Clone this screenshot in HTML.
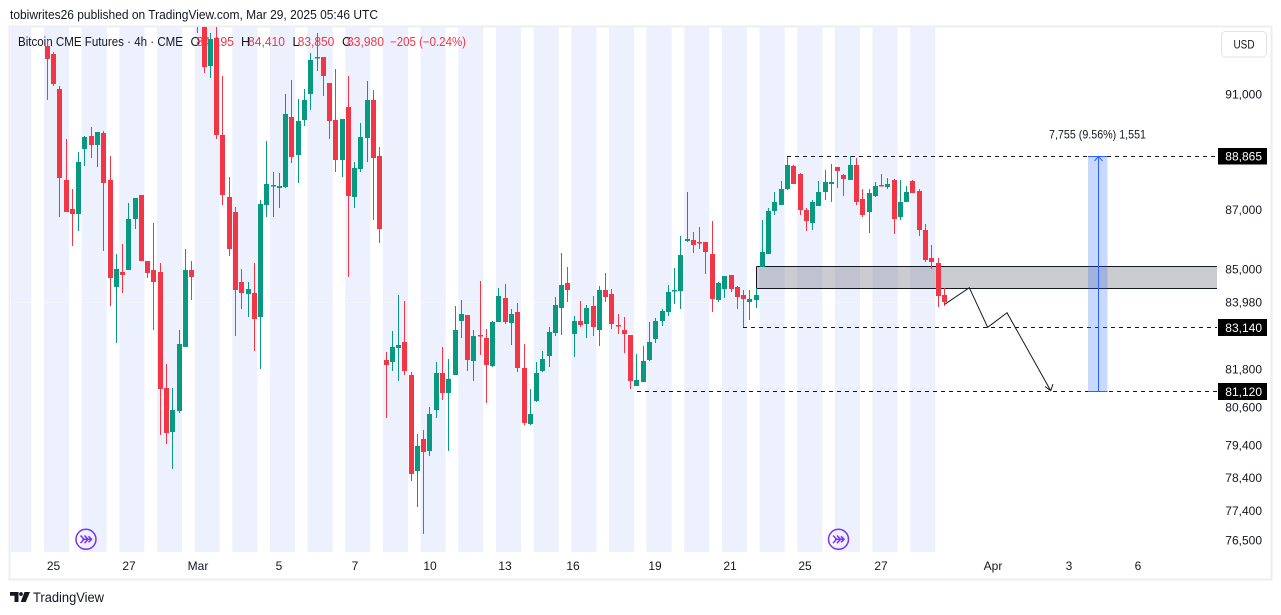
<!DOCTYPE html>
<html><head><meta charset="utf-8"><style>
html,body{margin:0;padding:0;background:#fff;}
svg{display:block;font-family:"Liberation Sans",sans-serif;}
</style></head><body>
<svg width="1281" height="615" viewBox="0 0 1281 615" xmlns="http://www.w3.org/2000/svg">
<rect x="0" y="0" width="1281" height="615" fill="#fff"/>
<text x="10" y="19" font-size="13" fill="#131722" textLength="368" lengthAdjust="spacingAndGlyphs">tobiwrites26 published on TradingView.com, Mar 29, 2025 05:46 UTC</text>
<rect x="9.5" y="26.5" width="1262" height="553" fill="none" stroke="#eceef2" stroke-width="2"/>
<defs><clipPath id="pc"><rect x="10" y="27" width="1207" height="525"/></clipPath></defs>
<g fill="#edf0fd">
<rect x="11" y="27" width="20.3" height="525"/>
<rect x="44" y="27" width="25.1" height="525"/>
<rect x="81.66" y="27" width="25.1" height="525"/>
<rect x="119.32" y="27" width="25.1" height="525"/>
<rect x="156.98" y="27" width="25.1" height="525"/>
<rect x="194.64" y="27" width="25.1" height="525"/>
<rect x="232.3" y="27" width="25.1" height="525"/>
<rect x="269.96" y="27" width="25.1" height="525"/>
<rect x="307.62" y="27" width="25.1" height="525"/>
<rect x="345.28" y="27" width="25.1" height="525"/>
<rect x="382.94" y="27" width="25.1" height="525"/>
<rect x="420.6" y="27" width="25.1" height="525"/>
<rect x="458.26" y="27" width="25.1" height="525"/>
<rect x="495.92" y="27" width="25.1" height="525"/>
<rect x="533.58" y="27" width="25.1" height="525"/>
<rect x="571.24" y="27" width="25.1" height="525"/>
<rect x="608.9" y="27" width="25.1" height="525"/>
<rect x="646.56" y="27" width="25.1" height="525"/>
<rect x="684.22" y="27" width="25.1" height="525"/>
<rect x="721.88" y="27" width="25.1" height="525"/>
<rect x="759.54" y="27" width="25.1" height="525"/>
<rect x="797.2" y="27" width="25.1" height="525"/>
<rect x="834.86" y="27" width="25.1" height="525"/>
<rect x="872.52" y="27" width="25.1" height="525"/>
<rect x="910.18" y="27" width="25.1" height="525"/>
</g>
<line x1="10" y1="302.5" x2="1217" y2="302.5" stroke="#fff" stroke-width="1" stroke-dasharray="1 3"/>
<g font-size="12.5">
<text x="18" y="46" fill="#131722" textLength="165" lengthAdjust="spacingAndGlyphs">Bitcoin CME Futures · 4h · CME</text>
<text x="190.5" y="46" fill="#131722">O</text>
<text x="196.5" y="46" fill="#f23645" textLength="37.5" lengthAdjust="spacingAndGlyphs">84,195</text>
<text x="241" y="46" fill="#131722">H</text>
<text x="248" y="46" fill="#f23645" textLength="37" lengthAdjust="spacingAndGlyphs">84,410</text>
<text x="292.5" y="46" fill="#131722">L</text>
<text x="297.7" y="46" fill="#f23645" textLength="36.6" lengthAdjust="spacingAndGlyphs">83,850</text>
<text x="342" y="46" fill="#131722">C</text>
<text x="347" y="46" fill="#f23645" textLength="37" lengthAdjust="spacingAndGlyphs">83,980</text>
<text x="390" y="46" fill="#f23645" textLength="76" lengthAdjust="spacingAndGlyphs">−205 (−0.24%)</text>
</g>
<!-- gray zone -->
<rect x="756.5" y="266.5" width="460.5" height="22" fill="rgba(117,120,132,0.38)"/>
<path d="M756.5 266.5H1217M756.5 288.5H1217M756.5 266.5V288.5" stroke="#131722" stroke-width="1" fill="none"/>
<g clip-path="url(#pc)">
<g fill="#f23645">
<rect x="47" y="40" width="1" height="60"/><rect x="45" y="46" width="5" height="13"/>
<rect x="53" y="52" width="1" height="34"/><rect x="51" y="54" width="5" height="30"/>
<rect x="59" y="86" width="1" height="131"/><rect x="57" y="89" width="5" height="89"/>
<rect x="66" y="139" width="1" height="73"/><rect x="64" y="180" width="5" height="32"/>
<rect x="72" y="189" width="1" height="57"/><rect x="70" y="209" width="5" height="5"/>
<rect x="91" y="127" width="1" height="31"/><rect x="89" y="136" width="5" height="9"/>
<rect x="103" y="131" width="1" height="120"/><rect x="101" y="133" width="5" height="50"/>
<rect x="110" y="156" width="1" height="150"/><rect x="108" y="180" width="5" height="98"/>
<rect x="122" y="244" width="1" height="49"/><rect x="120" y="272" width="5" height="3"/>
<rect x="141" y="195" width="1" height="66"/><rect x="139" y="195" width="5" height="66"/>
<rect x="147" y="261" width="1" height="17"/><rect x="145" y="261" width="5" height="12"/>
<rect x="153" y="223" width="1" height="107"/><rect x="151" y="270" width="5" height="12"/>
<rect x="160" y="263" width="1" height="172"/><rect x="158" y="272" width="5" height="117"/>
<rect x="166" y="364" width="1" height="80"/><rect x="164" y="388" width="5" height="45"/>
<rect x="191" y="261" width="1" height="39"/><rect x="189" y="270" width="5" height="7"/>
<rect x="197" y="0" width="1" height="33"/><rect x="195" y="0" width="5" height="20"/>
<rect x="204" y="0" width="1" height="73"/><rect x="202" y="0" width="5" height="67"/>
<rect x="216" y="0" width="1" height="139"/><rect x="214" y="38" width="5" height="97"/>
<rect x="222" y="76" width="1" height="129"/><rect x="220" y="135" width="5" height="60"/>
<rect x="229" y="177" width="1" height="79"/><rect x="227" y="197" width="5" height="52"/>
<rect x="235" y="207" width="1" height="129"/><rect x="233" y="212" width="5" height="78"/>
<rect x="241" y="269" width="1" height="40"/><rect x="239" y="282" width="5" height="11"/>
<rect x="254" y="263" width="1" height="88"/><rect x="252" y="293" width="5" height="26"/>
<rect x="291" y="80" width="1" height="83"/><rect x="289" y="117" width="5" height="40"/>
<rect x="323" y="57" width="1" height="39"/><rect x="321" y="57" width="5" height="19"/>
<rect x="329" y="83" width="1" height="56"/><rect x="327" y="83" width="5" height="38"/>
<rect x="335" y="69" width="1" height="103"/><rect x="333" y="120" width="5" height="40"/>
<rect x="348" y="76" width="1" height="201"/><rect x="346" y="107" width="5" height="89"/>
<rect x="373" y="90" width="1" height="130"/><rect x="371" y="100" width="5" height="58"/>
<rect x="379" y="147" width="1" height="96"/><rect x="377" y="156" width="5" height="73"/>
<rect x="386" y="352" width="1" height="66"/><rect x="384" y="360" width="5" height="5"/>
<rect x="404" y="301" width="1" height="74"/><rect x="402" y="342" width="5" height="29"/>
<rect x="411" y="372" width="1" height="109"/><rect x="409" y="375" width="5" height="99"/>
<rect x="423" y="430" width="1" height="104"/><rect x="421" y="439" width="5" height="13"/>
<rect x="442" y="347" width="1" height="53"/><rect x="440" y="373" width="5" height="20"/>
<rect x="467" y="315" width="1" height="56"/><rect x="465" y="315" width="5" height="45"/>
<rect x="480" y="281" width="1" height="74"/><rect x="478" y="335" width="5" height="1.5"/>
<rect x="486" y="329" width="1" height="74"/><rect x="484" y="338" width="5" height="27"/>
<rect x="505" y="284" width="1" height="40"/><rect x="503" y="298" width="5" height="24"/>
<rect x="517" y="303" width="1" height="69"/><rect x="515" y="312" width="5" height="56"/>
<rect x="524" y="344" width="1" height="81"/><rect x="522" y="368" width="5" height="55"/>
<rect x="567" y="267" width="1" height="35"/><rect x="565" y="283" width="5" height="7"/>
<rect x="580" y="301" width="1" height="26"/><rect x="578" y="321" width="5" height="4"/>
<rect x="593" y="296" width="1" height="40"/><rect x="591" y="306" width="5" height="21"/>
<rect x="605" y="273" width="1" height="29"/><rect x="603" y="290" width="5" height="7"/>
<rect x="611" y="289" width="1" height="40"/><rect x="609" y="294" width="5" height="30"/>
<rect x="618" y="314" width="1" height="20"/><rect x="616" y="325" width="5" height="1.5"/>
<rect x="624" y="317" width="1" height="36"/><rect x="622" y="330" width="5" height="4"/>
<rect x="630" y="335" width="1" height="54"/><rect x="628" y="335" width="5" height="46"/>
<rect x="693" y="232" width="1" height="21"/><rect x="691" y="240" width="5" height="5"/>
<rect x="699" y="227" width="1" height="22"/><rect x="697" y="242" width="5" height="1.5"/>
<rect x="705" y="242" width="1" height="32"/><rect x="703" y="242" width="5" height="10"/>
<rect x="712" y="221" width="1" height="91"/><rect x="710" y="254" width="5" height="45"/>
<rect x="731" y="275" width="1" height="17"/><rect x="729" y="275" width="5" height="14"/>
<rect x="737" y="286" width="1" height="23"/><rect x="735" y="287" width="5" height="10"/>
<rect x="743" y="290" width="1" height="37"/><rect x="741" y="295" width="5" height="4"/>
<rect x="793" y="165" width="1" height="19"/><rect x="791" y="166" width="5" height="18"/>
<rect x="800" y="173" width="1" height="42"/><rect x="798" y="174" width="5" height="36"/>
<rect x="806" y="208" width="1" height="23"/><rect x="804" y="210" width="5" height="11"/>
<rect x="837" y="167" width="1" height="21"/><rect x="835" y="167" width="5" height="4"/>
<rect x="843" y="174" width="1" height="22"/><rect x="841" y="175" width="5" height="4"/>
<rect x="856" y="158" width="1" height="47"/><rect x="854" y="165" width="5" height="37"/>
<rect x="862" y="189" width="1" height="28"/><rect x="860" y="199" width="5" height="16"/>
<rect x="881" y="174" width="1" height="11"/><rect x="879" y="185" width="5" height="1.5"/>
<rect x="894" y="179" width="1" height="55"/><rect x="892" y="180" width="5" height="39"/>
<rect x="912" y="180" width="1" height="13"/><rect x="910" y="181" width="5" height="12"/>
<rect x="919" y="189" width="1" height="47"/><rect x="917" y="191" width="5" height="39"/>
<rect x="925" y="224" width="1" height="38"/><rect x="923" y="230" width="5" height="30"/>
<rect x="931" y="245" width="1" height="24"/><rect x="929" y="258" width="5" height="4"/>
<rect x="938" y="258" width="1" height="49"/><rect x="936" y="263" width="5" height="33"/>
<rect x="944" y="288" width="1" height="18"/><rect x="942" y="295" width="5" height="7"/>
</g>
<g fill="#089981">
<rect x="78" y="152" width="1" height="79"/><rect x="76" y="162" width="5" height="52"/>
<rect x="84" y="136" width="1" height="30"/><rect x="82" y="137" width="5" height="12"/>
<rect x="97" y="132" width="1" height="35"/><rect x="95" y="132" width="5" height="13"/>
<rect x="116" y="254" width="1" height="89"/><rect x="114" y="269" width="5" height="18"/>
<rect x="128" y="203" width="1" height="67"/><rect x="126" y="219" width="5" height="51"/>
<rect x="135" y="198" width="1" height="31"/><rect x="133" y="198" width="5" height="21"/>
<rect x="172" y="388" width="1" height="81"/><rect x="170" y="410" width="5" height="22"/>
<rect x="179" y="330" width="1" height="83"/><rect x="177" y="344" width="5" height="67"/>
<rect x="185" y="249" width="1" height="98"/><rect x="183" y="270" width="5" height="77"/>
<rect x="210" y="33" width="1" height="45"/><rect x="208" y="39" width="5" height="27"/>
<rect x="248" y="282" width="1" height="35"/><rect x="246" y="289" width="5" height="5"/>
<rect x="260" y="200" width="1" height="169"/><rect x="258" y="204" width="5" height="113"/>
<rect x="266" y="141" width="1" height="76"/><rect x="264" y="184" width="5" height="21"/>
<rect x="273" y="172" width="1" height="45"/><rect x="271" y="185" width="5" height="1.5"/>
<rect x="279" y="173" width="1" height="35"/><rect x="277" y="186" width="5" height="2"/>
<rect x="285" y="94" width="1" height="94"/><rect x="283" y="114" width="5" height="73"/>
<rect x="298" y="99" width="1" height="84"/><rect x="296" y="121" width="5" height="34"/>
<rect x="304" y="89" width="1" height="37"/><rect x="302" y="100" width="5" height="20"/>
<rect x="310" y="53" width="1" height="57"/><rect x="308" y="60" width="5" height="34"/>
<rect x="317" y="33" width="1" height="38"/><rect x="315" y="57" width="5" height="1.5"/>
<rect x="342" y="119" width="1" height="58"/><rect x="340" y="119" width="5" height="41"/>
<rect x="354" y="162" width="1" height="46"/><rect x="352" y="168" width="5" height="29"/>
<rect x="360" y="123" width="1" height="49"/><rect x="358" y="137" width="5" height="32"/>
<rect x="367" y="81" width="1" height="81"/><rect x="365" y="100" width="5" height="38"/>
<rect x="392" y="331" width="1" height="40"/><rect x="390" y="347" width="5" height="15"/>
<rect x="398" y="295" width="1" height="86"/><rect x="396" y="345" width="5" height="3"/>
<rect x="417" y="434" width="1" height="73"/><rect x="415" y="446" width="5" height="25"/>
<rect x="429" y="407" width="1" height="49"/><rect x="427" y="414" width="5" height="37"/>
<rect x="436" y="362" width="1" height="56"/><rect x="434" y="373" width="5" height="37"/>
<rect x="448" y="359" width="1" height="92"/><rect x="446" y="379" width="5" height="14"/>
<rect x="455" y="306" width="1" height="69"/><rect x="453" y="330" width="5" height="45"/>
<rect x="461" y="300" width="1" height="38"/><rect x="459" y="314" width="5" height="7"/>
<rect x="473" y="330" width="1" height="51"/><rect x="471" y="336" width="5" height="25"/>
<rect x="492" y="321" width="1" height="46"/><rect x="490" y="322" width="5" height="44"/>
<rect x="498" y="288" width="1" height="34"/><rect x="496" y="296" width="5" height="26"/>
<rect x="511" y="309" width="1" height="36"/><rect x="509" y="314" width="5" height="9"/>
<rect x="530" y="389" width="1" height="36"/><rect x="528" y="414" width="5" height="10"/>
<rect x="536" y="362" width="1" height="40"/><rect x="534" y="373" width="5" height="28"/>
<rect x="542" y="351" width="1" height="21"/><rect x="540" y="359" width="5" height="12"/>
<rect x="549" y="327" width="1" height="40"/><rect x="547" y="332" width="5" height="24"/>
<rect x="555" y="297" width="1" height="39"/><rect x="553" y="305" width="5" height="28"/>
<rect x="561" y="253" width="1" height="82"/><rect x="559" y="285" width="5" height="23"/>
<rect x="574" y="316" width="1" height="41"/><rect x="572" y="321" width="5" height="13"/>
<rect x="586" y="305" width="1" height="33"/><rect x="584" y="308" width="5" height="16"/>
<rect x="599" y="286" width="1" height="60"/><rect x="597" y="290" width="5" height="40"/>
<rect x="636" y="354" width="1" height="32"/><rect x="634" y="380" width="5" height="6"/>
<rect x="643" y="346" width="1" height="36"/><rect x="641" y="361" width="5" height="21"/>
<rect x="649" y="322" width="1" height="39"/><rect x="647" y="342" width="5" height="18"/>
<rect x="655" y="318" width="1" height="25"/><rect x="653" y="321" width="5" height="18"/>
<rect x="662" y="309" width="1" height="17"/><rect x="660" y="311" width="5" height="10"/>
<rect x="668" y="285" width="1" height="31"/><rect x="666" y="292" width="5" height="20"/>
<rect x="674" y="268" width="1" height="36"/><rect x="672" y="290" width="5" height="1.5"/>
<rect x="680" y="236" width="1" height="73"/><rect x="678" y="255" width="5" height="36"/>
<rect x="687" y="192" width="1" height="50"/><rect x="685" y="239" width="5" height="2"/>
<rect x="718" y="282" width="1" height="20"/><rect x="716" y="283" width="5" height="17"/>
<rect x="724" y="276" width="1" height="22"/><rect x="722" y="276" width="5" height="13"/>
<rect x="749" y="290" width="1" height="30"/><rect x="747" y="299" width="5" height="3"/>
<rect x="756" y="288" width="1" height="20"/><rect x="754" y="295" width="5" height="5"/>
<rect x="762" y="220" width="1" height="47"/><rect x="760" y="252" width="5" height="15"/>
<rect x="768" y="208" width="1" height="46"/><rect x="766" y="211" width="5" height="43"/>
<rect x="774" y="192" width="1" height="23"/><rect x="772" y="202" width="5" height="9"/>
<rect x="781" y="181" width="1" height="24"/><rect x="779" y="189" width="5" height="16"/>
<rect x="787" y="156" width="1" height="34"/><rect x="785" y="165" width="5" height="24"/>
<rect x="812" y="200" width="1" height="30"/><rect x="810" y="202" width="5" height="21"/>
<rect x="818" y="181" width="1" height="25"/><rect x="816" y="192" width="5" height="14"/>
<rect x="825" y="170" width="1" height="30"/><rect x="823" y="182" width="5" height="10"/>
<rect x="831" y="164" width="1" height="38"/><rect x="829" y="182" width="5" height="2"/>
<rect x="850" y="156" width="1" height="24"/><rect x="848" y="165" width="5" height="15"/>
<rect x="869" y="189" width="1" height="44"/><rect x="867" y="193" width="5" height="19"/>
<rect x="875" y="182" width="1" height="15"/><rect x="873" y="186" width="5" height="10"/>
<rect x="887" y="178" width="1" height="11"/><rect x="885" y="184" width="5" height="3"/>
<rect x="900" y="180" width="1" height="40"/><rect x="898" y="202" width="5" height="15"/>
<rect x="906" y="186" width="1" height="16"/><rect x="904" y="192" width="5" height="10"/>
</g>
</g>
<!-- dashed levels -->
<g stroke="#131722" stroke-width="1" stroke-dasharray="4 4" fill="none">
<line x1="787" y1="156.5" x2="1217" y2="156.5"/>
<line x1="743" y1="327.5" x2="1217" y2="327.5"/>
<line x1="637" y1="391.5" x2="1217" y2="391.5"/>
</g>
<!-- measure -->
<rect x="1088" y="156.5" width="19.5" height="235" fill="rgba(41,98,255,0.25)"/>
<g stroke="#2962ff" stroke-width="1" fill="none">
<line x1="1098.5" y1="156.5" x2="1098.5" y2="391.5"/>
<line x1="1088" y1="391.5" x2="1107.5" y2="391.5"/>
<line x1="1088" y1="156.5" x2="1107.5" y2="156.5"/>
<path d="M1094.5 161L1098.5 156.5L1102.5 161"/>
</g>
<text x="1097.5" y="138.5" font-size="12" fill="#131722" text-anchor="middle" textLength="97" lengthAdjust="spacingAndGlyphs">7,755 (9.56%) 1,551</text>
<!-- path arrow -->
<polyline points="944.7,304.3 969.3,287.7 987.7,327.3 1007,312.7 1050.7,390.7" fill="none" stroke="#131722" stroke-width="1"/>
<path d="M1045 386.5L1050.7 390.7L1053 384" fill="none" stroke="#131722" stroke-width="1"/>
<!-- purple icons -->
<g fill="none" stroke="#7b2ff7" stroke-width="1.5">
<circle cx="86" cy="539.3" r="10"/>
<path d="M80.5 535.5l3.5 3.8l-3.5 3.8M84.5 535.5l3.5 3.8l-3.5 3.8M82.5 539.3h9M88.5 536.3l3 3l-3 3"/>
<circle cx="838.5" cy="539.3" r="10"/>
<path d="M833 535.5l3.5 3.8l-3.5 3.8M837 535.5l3.5 3.8l-3.5 3.8M835 539.3h9M841 536.3l3 3l-3 3"/>
</g>
<!-- price axis -->
<rect x="1221.5" y="31.5" width="45" height="25.5" rx="4" fill="#fff" stroke="#e0e3eb"/>
<text x="1244" y="48.5" font-size="12" fill="#131722" text-anchor="middle" textLength="21" lengthAdjust="spacingAndGlyphs">USD</text>
<g font-size="12" fill="#131722" text-anchor="end">
<text x="1262" y="98.5">91,000</text>
<text x="1262" y="214">87,000</text>
<text x="1262" y="273.6">85,000</text>
<text x="1262" y="306.3">83,980</text>
<text x="1262" y="373.3">81,800</text>
<text x="1262" y="411.3">80,600</text>
<text x="1262" y="449.3">79,400</text>
<text x="1262" y="481.8">78,400</text>
<text x="1262" y="515">77,400</text>
<text x="1262" y="544.3">76,500</text>
</g>
<rect x="1218" y="148" width="49" height="16.5" fill="#000"/>
<rect x="1218" y="319" width="49" height="17" fill="#000"/>
<rect x="1218" y="383" width="49" height="17" fill="#000"/>
<g font-size="12" fill="#fff" text-anchor="end">
<text x="1262" y="160.5">88,865</text>
<text x="1262" y="331.8">83,140</text>
<text x="1262" y="395.8">81,120</text>
</g>
<!-- time axis -->
<g font-size="12" fill="#131722" text-anchor="middle">
<text x="53.5" y="570">25</text>
<text x="129" y="570">27</text>
<text x="198" y="570">Mar</text>
<text x="279" y="570">5</text>
<text x="355" y="570">7</text>
<text x="430" y="570">10</text>
<text x="505" y="570">13</text>
<text x="573" y="570">16</text>
<text x="655" y="570">19</text>
<text x="730" y="570">21</text>
<text x="805" y="570">25</text>
<text x="881" y="570">27</text>
<text x="993" y="570">Apr</text>
<text x="1069" y="570">3</text>
<text x="1138" y="570">6</text>
</g>
<!-- TradingView logo -->
<g fill="#131722">
<path d="M10 592h8.5v10h-4v-6.3h-4.5z"/>
<circle cx="21" cy="594" r="1.9"/>
<path d="M24.5 592h5.5l-4.3 10h-5z"/>
</g>
<text x="33" y="602" font-size="13.5" fill="#131722" textLength="71" lengthAdjust="spacingAndGlyphs">TradingView</text>
</svg>
</body></html>
